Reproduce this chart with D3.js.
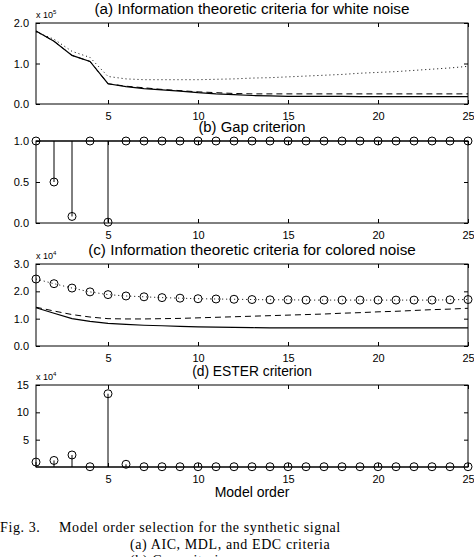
<!DOCTYPE html><html><head><meta charset="utf-8"><script src="https://cdn.jsdelivr.net/npm/d3@7"></script>
<style>body{margin:0;background:#fff}text{font-family:"Liberation Sans",Arial,sans-serif}</style></head><body><svg id="c" width="474" height="557"></svg><script>
const orders=d3.range(1,26);
const aSolid=[1.8,1.55,1.2,1.05,0.5,0.43,0.38,0.35,0.32,0.28,0.25,0.23,0.21,0.2,0.19,0.19,0.19,0.19,0.18,0.18,0.18,0.18,0.18,0.18,0.18];
const aDashed=[1.8,1.55,1.2,1.05,0.5,0.44,0.4,0.36,0.33,0.3,0.28,0.26,0.25,0.25,0.25,0.25,0.25,0.25,0.25,0.25,0.25,0.25,0.25,0.25,0.25];
const aDotted=[1.78,1.6,1.3,1.15,0.68,0.62,0.6,0.6,0.6,0.6,0.61,0.62,0.64,0.65,0.67,0.69,0.71,0.73,0.76,0.78,0.8,0.83,0.86,0.89,0.93];
const gap=[1,0.5,0.08,1,0.01,1,1,1,1,1,1,1,1,1,1,1,1,1,1,1,1,1,1,1,1];
const cDotted=[2.45,2.28,2.12,1.98,1.88,1.83,1.8,1.77,1.75,1.73,1.72,1.71,1.7,1.69,1.69,1.68,1.68,1.68,1.68,1.68,1.68,1.68,1.68,1.69,1.7];
const cDashed=[1.42,1.28,1.15,1.06,1.0,0.99,0.99,1.0,1.01,1.03,1.05,1.07,1.09,1.11,1.13,1.15,1.17,1.2,1.22,1.25,1.27,1.3,1.33,1.35,1.38];
const cSolid=[1.4,1.2,1.0,0.9,0.83,0.79,0.76,0.74,0.72,0.7,0.69,0.68,0.67,0.66,0.66,0.66,0.66,0.66,0.66,0.66,0.66,0.66,0.66,0.66,0.66];
const ester=[0.9,1.2,2.2,0.05,13.4,0.5,0.05,0.05,0.05,0.05,0.05,0.05,0.05,0.05,0.05,0.05,0.05,0.05,0.05,0.05,0.05,0.05,0.05,0.05,0.05];
const xTicks=[5,10,15,20,25];
const svg=d3.select("#c");
const x=d3.scaleLinear().domain([1,25]).range([36,468]);
function panel(top,bot,ymax,yticks,title,exp){
  const y=d3.scaleLinear().domain([0,ymax]).range([bot,top]);
  const g=svg.append("g");
  g.append("rect").attr("x",36).attr("y",top).attr("width",432).attr("height",bot-top).attr("fill","none").attr("stroke","#000");
  g.append("g").attr("transform",`translate(0,${bot})`).call(d3.axisBottom(x).tickValues(xTicks).tickSizeInner(-4).tickSizeOuter(0).tickPadding(8)).call(a=>{a.select(".domain").remove();a.selectAll("text").attr("font-size",11);});
  g.append("g").attr("transform",`translate(0,${top})`).call(d3.axisTop(x).tickValues(xTicks).tickSizeInner(-4).tickSizeOuter(0).tickFormat("")).select(".domain").remove();
  g.append("g").attr("transform",`translate(36,0)`).call(d3.axisLeft(y).tickValues(yticks).tickSizeInner(-4).tickSizeOuter(0).tickPadding(7)).call(a=>{a.select(".domain").remove();a.selectAll("text").attr("font-size",11);});
  g.append("g").attr("transform",`translate(468,0)`).call(d3.axisRight(y).tickValues(yticks).tickSizeInner(-4).tickSizeOuter(0).tickFormat("")).select(".domain").remove();
  g.append("text").attr("x",252).attr("y",top-9).attr("text-anchor","middle").attr("font-size",14).attr("textLength",290).attr("lengthAdjust","spacingAndGlyphs").text(title).attr("textLength",title.length*6.3);
  if(exp){const t=g.append("text").attr("x",36).attr("y",top-5).attr("font-size",9).text("x 10");t.append("tspan").attr("dy",-4).attr("font-size",6).text(exp);}
  return {g,y};
}
function line(p,data,dash,w){p.g.append("path").datum(data).attr("fill","none").attr("stroke","#000").attr("stroke-width",w||1).attr("stroke-dasharray",dash).attr("d",d3.line().x((d,i)=>x(orders[i])).y(d=>p.y(d)));}
function circles(p,data){p.g.selectAll(null).data(data).enter().append("circle").attr("cx",(d,i)=>x(orders[i])).attr("cy",d=>p.y(d)).attr("r",4).attr("fill","none").attr("stroke","#000");}
function stems(p,data){p.g.selectAll(null).data(data).enter().append("line").attr("x1",(d,i)=>x(orders[i])).attr("x2",(d,i)=>x(orders[i])).attr("y1",p.y(0)).attr("y2",d=>p.y(d)).attr("stroke","#000");}
const pa=panel(23,104,2,[0,1,2],"(a) Information theoretic criteria for white noise","5");
line(pa,aDotted,"1,3");line(pa,aDashed,"6,4");line(pa,aSolid,null,1.2);
const pb=panel(141,223,1,[0,0.5,1],"(b) Gap criterion");
pb.g.append("line").attr("x1",36).attr("x2",468).attr("y1",pb.y(1)).attr("y2",pb.y(1)).attr("stroke","#000");
pb.g.selectAll(null).data(gap).enter().append("line").attr("x1",(d,i)=>x(orders[i])).attr("x2",(d,i)=>x(orders[i])).attr("y1",pb.y(1)).attr("y2",d=>pb.y(d)).attr("stroke","#000");
circles(pb,gap);
const pc=panel(264,346,3,[0,1,2,3],"(c) Information theoretic criteria for colored noise","4");
line(pc,cDotted,"1,3");line(pc,cDashed,"6,4");line(pc,cSolid,null,1.2);circles(pc,cDotted);
const pd=panel(385,467,15,[5,10,15],"(d) ESTER criterion","4");
pd.g.append("line").attr("x1",36).attr("x2",468).attr("y1",pd.y(0)).attr("y2",pd.y(0)).attr("stroke","#000");
stems(pd,ester);circles(pd,ester);
svg.append("text").attr("x",252).attr("y",497).attr("text-anchor","middle").attr("font-size",14).text("Model order");
const serif="font-family:'Liberation Serif';letter-spacing:0.6px";
svg.append("text").attr("x",0).attr("y",532).attr("style",serif).attr("font-size",14).text("Fig. 3.");
svg.append("text").attr("x",59).attr("y",532).attr("style",serif).attr("font-size",14).text("Model order selection for the synthetic signal");
svg.append("text").attr("x",130).attr("y",549).attr("style",serif).attr("font-size",14).text("(a) AIC, MDL, and EDC criteria");
svg.append("text").attr("x",130).attr("y",565).attr("style",serif).attr("font-size",14).text("(b) Gap criterion");
</script></body></html>
